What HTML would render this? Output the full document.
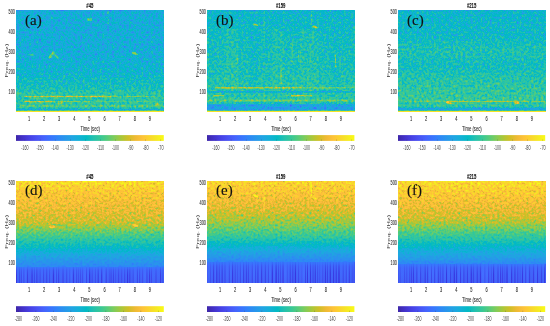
<!DOCTYPE html>
<html><head><meta charset="utf-8"><title>Spectrograms</title>
<style>html,body{margin:0;padding:0;background:#fff;overflow:hidden}svg{display:block}</style>
</head><body>
<svg width="550" height="326" viewBox="0 0 550 326">
<defs>
<linearGradient id="pg" x1="0" x2="1" y1="0" y2="0">
<stop offset="0.0000" stop-color="#3e26a8"/>
<stop offset="0.0476" stop-color="#4332cb"/>
<stop offset="0.0952" stop-color="#4741e5"/>
<stop offset="0.1429" stop-color="#4852f4"/>
<stop offset="0.1905" stop-color="#4563fd"/>
<stop offset="0.2381" stop-color="#3875fe"/>
<stop offset="0.2857" stop-color="#2e87f7"/>
<stop offset="0.3333" stop-color="#2797eb"/>
<stop offset="0.3810" stop-color="#20a5e3"/>
<stop offset="0.4286" stop-color="#12b1d6"/>
<stop offset="0.4762" stop-color="#02bac3"/>
<stop offset="0.5238" stop-color="#24c1ae"/>
<stop offset="0.5714" stop-color="#37c897"/>
<stop offset="0.6190" stop-color="#57cc7a"/>
<stop offset="0.6667" stop-color="#81cc59"/>
<stop offset="0.7143" stop-color="#abc739"/>
<stop offset="0.7619" stop-color="#d1bf27"/>
<stop offset="0.8095" stop-color="#f0ba36"/>
<stop offset="0.8571" stop-color="#fec338"/>
<stop offset="0.9048" stop-color="#fad62d"/>
<stop offset="0.9524" stop-color="#f5e924"/>
<stop offset="1.0000" stop-color="#f9fb15"/>
</linearGradient>
<filter id="ft0" filterUnits="userSpaceOnUse" x="16.0" y="10.7" width="147.80" height="100.80" color-interpolation-filters="sRGB">
<feTurbulence type="fractalNoise" baseFrequency="0.41" numOctaves="2" seed="3" result="t"/>
<feColorMatrix in="t" type="matrix" values="1 0 0 0 0  1 0 0 0 0  1 0 0 0 0  0 0 0 0 1" result="n0"/>
<feComponentTransfer in="n0" result="n"><feFuncR type="gamma" exponent="0.4"/><feFuncG type="gamma" exponent="0.4"/><feFuncB type="gamma" exponent="0.4"/></feComponentTransfer>
<feGaussianBlur in="SourceGraphic" stdDeviation="0.55" result="sb"/>
<feComposite in="sb" in2="n" operator="arithmetic" k1="0" k2="1" k3="0.64" k4="-0.4850" result="v"/>
<feComponentTransfer in="v">
<feFuncR type="table" tableValues="0.2422 0.2504 0.2578 0.2647 0.2706 0.2751 0.2783 0.2803 0.2813 0.2810 0.2795 0.2760 0.2699 0.2602 0.2440 0.2206 0.1963 0.1834 0.1786 0.1764 0.1687 0.1540 0.1460 0.1380 0.1248 0.1113 0.0952 0.0689 0.0297 0.0036 0.0067 0.0433 0.0964 0.1408 0.1717 0.1938 0.2161 0.2470 0.2906 0.3406 0.3909 0.4456 0.5044 0.5616 0.6174 0.6720 0.7242 0.7738 0.8203 0.8634 0.9035 0.9393 0.9728 0.9956 0.9970 0.9952 0.9892 0.9786 0.9676 0.9610 0.9597 0.9628 0.9691 0.9769"/>
<feFuncG type="table" tableValues="0.1504 0.1650 0.1818 0.1978 0.2147 0.2342 0.2559 0.2782 0.3006 0.3228 0.3447 0.3667 0.3892 0.4123 0.4358 0.4603 0.4847 0.5074 0.5289 0.5499 0.5703 0.5902 0.6091 0.6276 0.6459 0.6635 0.6798 0.6948 0.7082 0.7203 0.7312 0.7411 0.7500 0.7584 0.7670 0.7758 0.7843 0.7918 0.7973 0.8008 0.8029 0.8024 0.7993 0.7942 0.7876 0.7793 0.7698 0.7598 0.7498 0.7406 0.7330 0.7288 0.7298 0.7434 0.7659 0.7893 0.8136 0.8386 0.8639 0.8890 0.9135 0.9373 0.9606 0.9839"/>
<feFuncB type="table" tableValues="0.6603 0.7076 0.7511 0.7952 0.8364 0.8710 0.8991 0.9221 0.9414 0.9579 0.9717 0.9829 0.9906 0.9952 0.9988 0.9973 0.9892 0.9798 0.9682 0.9520 0.9359 0.9218 0.9079 0.8973 0.8883 0.8763 0.8598 0.8394 0.8163 0.7917 0.7660 0.7394 0.7120 0.6842 0.6554 0.6251 0.5923 0.5567 0.5188 0.4789 0.4354 0.3909 0.3480 0.3045 0.2612 0.2227 0.1910 0.1646 0.1535 0.1596 0.1774 0.2100 0.2394 0.2371 0.2199 0.2028 0.1885 0.1766 0.1643 0.1537 0.1423 0.1265 0.1064 0.0805"/>
</feComponentTransfer>
</filter>
<filter id="fb0" filterUnits="userSpaceOnUse" x="16.0" y="181.9" width="147.80" height="100.70" color-interpolation-filters="sRGB">
<feTurbulence type="fractalNoise" baseFrequency="0.41" numOctaves="2" seed="11" result="t"/>
<feColorMatrix in="t" type="matrix" values="1 0 0 0 0  1 0 0 0 0  1 0 0 0 0  0 0 0 0 1" result="n0"/>
<feComponentTransfer in="n0" result="n"><feFuncR type="gamma" exponent="0.4"/><feFuncG type="gamma" exponent="0.4"/><feFuncB type="gamma" exponent="0.4"/></feComponentTransfer>
<feGaussianBlur in="SourceGraphic" stdDeviation="0.55" result="sb"/>
<feComposite in="sb" in2="n" operator="arithmetic" k1="0.68" k2="0.4847" k3="0" k4="0" result="v"/>
<feComponentTransfer in="v">
<feFuncR type="table" tableValues="0.2422 0.2504 0.2578 0.2647 0.2706 0.2751 0.2783 0.2803 0.2813 0.2810 0.2795 0.2760 0.2699 0.2602 0.2440 0.2206 0.1963 0.1834 0.1786 0.1764 0.1687 0.1540 0.1460 0.1380 0.1248 0.1113 0.0952 0.0689 0.0297 0.0036 0.0067 0.0433 0.0964 0.1408 0.1717 0.1938 0.2161 0.2470 0.2906 0.3406 0.3909 0.4456 0.5044 0.5616 0.6174 0.6720 0.7242 0.7738 0.8203 0.8634 0.9035 0.9393 0.9728 0.9956 0.9970 0.9952 0.9892 0.9786 0.9676 0.9610 0.9597 0.9628 0.9691 0.9769"/>
<feFuncG type="table" tableValues="0.1504 0.1650 0.1818 0.1978 0.2147 0.2342 0.2559 0.2782 0.3006 0.3228 0.3447 0.3667 0.3892 0.4123 0.4358 0.4603 0.4847 0.5074 0.5289 0.5499 0.5703 0.5902 0.6091 0.6276 0.6459 0.6635 0.6798 0.6948 0.7082 0.7203 0.7312 0.7411 0.7500 0.7584 0.7670 0.7758 0.7843 0.7918 0.7973 0.8008 0.8029 0.8024 0.7993 0.7942 0.7876 0.7793 0.7698 0.7598 0.7498 0.7406 0.7330 0.7288 0.7298 0.7434 0.7659 0.7893 0.8136 0.8386 0.8639 0.8890 0.9135 0.9373 0.9606 0.9839"/>
<feFuncB type="table" tableValues="0.6603 0.7076 0.7511 0.7952 0.8364 0.8710 0.8991 0.9221 0.9414 0.9579 0.9717 0.9829 0.9906 0.9952 0.9988 0.9973 0.9892 0.9798 0.9682 0.9520 0.9359 0.9218 0.9079 0.8973 0.8883 0.8763 0.8598 0.8394 0.8163 0.7917 0.7660 0.7394 0.7120 0.6842 0.6554 0.6251 0.5923 0.5567 0.5188 0.4789 0.4354 0.3909 0.3480 0.3045 0.2612 0.2227 0.1910 0.1646 0.1535 0.1596 0.1774 0.2100 0.2394 0.2371 0.2199 0.2028 0.1885 0.1766 0.1643 0.1537 0.1423 0.1265 0.1064 0.0805"/>
</feComponentTransfer>
</filter>
<filter id="ft1" filterUnits="userSpaceOnUse" x="207.0" y="10.7" width="147.40" height="100.80" color-interpolation-filters="sRGB">
<feTurbulence type="fractalNoise" baseFrequency="0.41" numOctaves="2" seed="8" result="t"/>
<feColorMatrix in="t" type="matrix" values="1 0 0 0 0  1 0 0 0 0  1 0 0 0 0  0 0 0 0 1" result="n0"/>
<feComponentTransfer in="n0" result="n"><feFuncR type="gamma" exponent="0.4"/><feFuncG type="gamma" exponent="0.4"/><feFuncB type="gamma" exponent="0.4"/></feComponentTransfer>
<feGaussianBlur in="SourceGraphic" stdDeviation="0.55" result="sb"/>
<feComposite in="sb" in2="n" operator="arithmetic" k1="0" k2="1" k3="0.64" k4="-0.4850" result="v"/>
<feComponentTransfer in="v">
<feFuncR type="table" tableValues="0.2422 0.2504 0.2578 0.2647 0.2706 0.2751 0.2783 0.2803 0.2813 0.2810 0.2795 0.2760 0.2699 0.2602 0.2440 0.2206 0.1963 0.1834 0.1786 0.1764 0.1687 0.1540 0.1460 0.1380 0.1248 0.1113 0.0952 0.0689 0.0297 0.0036 0.0067 0.0433 0.0964 0.1408 0.1717 0.1938 0.2161 0.2470 0.2906 0.3406 0.3909 0.4456 0.5044 0.5616 0.6174 0.6720 0.7242 0.7738 0.8203 0.8634 0.9035 0.9393 0.9728 0.9956 0.9970 0.9952 0.9892 0.9786 0.9676 0.9610 0.9597 0.9628 0.9691 0.9769"/>
<feFuncG type="table" tableValues="0.1504 0.1650 0.1818 0.1978 0.2147 0.2342 0.2559 0.2782 0.3006 0.3228 0.3447 0.3667 0.3892 0.4123 0.4358 0.4603 0.4847 0.5074 0.5289 0.5499 0.5703 0.5902 0.6091 0.6276 0.6459 0.6635 0.6798 0.6948 0.7082 0.7203 0.7312 0.7411 0.7500 0.7584 0.7670 0.7758 0.7843 0.7918 0.7973 0.8008 0.8029 0.8024 0.7993 0.7942 0.7876 0.7793 0.7698 0.7598 0.7498 0.7406 0.7330 0.7288 0.7298 0.7434 0.7659 0.7893 0.8136 0.8386 0.8639 0.8890 0.9135 0.9373 0.9606 0.9839"/>
<feFuncB type="table" tableValues="0.6603 0.7076 0.7511 0.7952 0.8364 0.8710 0.8991 0.9221 0.9414 0.9579 0.9717 0.9829 0.9906 0.9952 0.9988 0.9973 0.9892 0.9798 0.9682 0.9520 0.9359 0.9218 0.9079 0.8973 0.8883 0.8763 0.8598 0.8394 0.8163 0.7917 0.7660 0.7394 0.7120 0.6842 0.6554 0.6251 0.5923 0.5567 0.5188 0.4789 0.4354 0.3909 0.3480 0.3045 0.2612 0.2227 0.1910 0.1646 0.1535 0.1596 0.1774 0.2100 0.2394 0.2371 0.2199 0.2028 0.1885 0.1766 0.1643 0.1537 0.1423 0.1265 0.1064 0.0805"/>
</feComponentTransfer>
</filter>
<filter id="fb1" filterUnits="userSpaceOnUse" x="207.0" y="181.9" width="147.40" height="100.70" color-interpolation-filters="sRGB">
<feTurbulence type="fractalNoise" baseFrequency="0.41" numOctaves="2" seed="18" result="t"/>
<feColorMatrix in="t" type="matrix" values="1 0 0 0 0  1 0 0 0 0  1 0 0 0 0  0 0 0 0 1" result="n0"/>
<feComponentTransfer in="n0" result="n"><feFuncR type="gamma" exponent="0.4"/><feFuncG type="gamma" exponent="0.4"/><feFuncB type="gamma" exponent="0.4"/></feComponentTransfer>
<feGaussianBlur in="SourceGraphic" stdDeviation="0.55" result="sb"/>
<feComposite in="sb" in2="n" operator="arithmetic" k1="0.68" k2="0.4847" k3="0" k4="0" result="v"/>
<feComponentTransfer in="v">
<feFuncR type="table" tableValues="0.2422 0.2504 0.2578 0.2647 0.2706 0.2751 0.2783 0.2803 0.2813 0.2810 0.2795 0.2760 0.2699 0.2602 0.2440 0.2206 0.1963 0.1834 0.1786 0.1764 0.1687 0.1540 0.1460 0.1380 0.1248 0.1113 0.0952 0.0689 0.0297 0.0036 0.0067 0.0433 0.0964 0.1408 0.1717 0.1938 0.2161 0.2470 0.2906 0.3406 0.3909 0.4456 0.5044 0.5616 0.6174 0.6720 0.7242 0.7738 0.8203 0.8634 0.9035 0.9393 0.9728 0.9956 0.9970 0.9952 0.9892 0.9786 0.9676 0.9610 0.9597 0.9628 0.9691 0.9769"/>
<feFuncG type="table" tableValues="0.1504 0.1650 0.1818 0.1978 0.2147 0.2342 0.2559 0.2782 0.3006 0.3228 0.3447 0.3667 0.3892 0.4123 0.4358 0.4603 0.4847 0.5074 0.5289 0.5499 0.5703 0.5902 0.6091 0.6276 0.6459 0.6635 0.6798 0.6948 0.7082 0.7203 0.7312 0.7411 0.7500 0.7584 0.7670 0.7758 0.7843 0.7918 0.7973 0.8008 0.8029 0.8024 0.7993 0.7942 0.7876 0.7793 0.7698 0.7598 0.7498 0.7406 0.7330 0.7288 0.7298 0.7434 0.7659 0.7893 0.8136 0.8386 0.8639 0.8890 0.9135 0.9373 0.9606 0.9839"/>
<feFuncB type="table" tableValues="0.6603 0.7076 0.7511 0.7952 0.8364 0.8710 0.8991 0.9221 0.9414 0.9579 0.9717 0.9829 0.9906 0.9952 0.9988 0.9973 0.9892 0.9798 0.9682 0.9520 0.9359 0.9218 0.9079 0.8973 0.8883 0.8763 0.8598 0.8394 0.8163 0.7917 0.7660 0.7394 0.7120 0.6842 0.6554 0.6251 0.5923 0.5567 0.5188 0.4789 0.4354 0.3909 0.3480 0.3045 0.2612 0.2227 0.1910 0.1646 0.1535 0.1596 0.1774 0.2100 0.2394 0.2371 0.2199 0.2028 0.1885 0.1766 0.1643 0.1537 0.1423 0.1265 0.1064 0.0805"/>
</feComponentTransfer>
</filter>
<filter id="ft2" filterUnits="userSpaceOnUse" x="398.0" y="10.7" width="147.20" height="100.80" color-interpolation-filters="sRGB">
<feTurbulence type="fractalNoise" baseFrequency="0.41" numOctaves="2" seed="13" result="t"/>
<feColorMatrix in="t" type="matrix" values="1 0 0 0 0  1 0 0 0 0  1 0 0 0 0  0 0 0 0 1" result="n0"/>
<feComponentTransfer in="n0" result="n"><feFuncR type="gamma" exponent="0.4"/><feFuncG type="gamma" exponent="0.4"/><feFuncB type="gamma" exponent="0.4"/></feComponentTransfer>
<feGaussianBlur in="SourceGraphic" stdDeviation="0.55" result="sb"/>
<feComposite in="sb" in2="n" operator="arithmetic" k1="0" k2="1" k3="0.64" k4="-0.4850" result="v"/>
<feComponentTransfer in="v">
<feFuncR type="table" tableValues="0.2422 0.2504 0.2578 0.2647 0.2706 0.2751 0.2783 0.2803 0.2813 0.2810 0.2795 0.2760 0.2699 0.2602 0.2440 0.2206 0.1963 0.1834 0.1786 0.1764 0.1687 0.1540 0.1460 0.1380 0.1248 0.1113 0.0952 0.0689 0.0297 0.0036 0.0067 0.0433 0.0964 0.1408 0.1717 0.1938 0.2161 0.2470 0.2906 0.3406 0.3909 0.4456 0.5044 0.5616 0.6174 0.6720 0.7242 0.7738 0.8203 0.8634 0.9035 0.9393 0.9728 0.9956 0.9970 0.9952 0.9892 0.9786 0.9676 0.9610 0.9597 0.9628 0.9691 0.9769"/>
<feFuncG type="table" tableValues="0.1504 0.1650 0.1818 0.1978 0.2147 0.2342 0.2559 0.2782 0.3006 0.3228 0.3447 0.3667 0.3892 0.4123 0.4358 0.4603 0.4847 0.5074 0.5289 0.5499 0.5703 0.5902 0.6091 0.6276 0.6459 0.6635 0.6798 0.6948 0.7082 0.7203 0.7312 0.7411 0.7500 0.7584 0.7670 0.7758 0.7843 0.7918 0.7973 0.8008 0.8029 0.8024 0.7993 0.7942 0.7876 0.7793 0.7698 0.7598 0.7498 0.7406 0.7330 0.7288 0.7298 0.7434 0.7659 0.7893 0.8136 0.8386 0.8639 0.8890 0.9135 0.9373 0.9606 0.9839"/>
<feFuncB type="table" tableValues="0.6603 0.7076 0.7511 0.7952 0.8364 0.8710 0.8991 0.9221 0.9414 0.9579 0.9717 0.9829 0.9906 0.9952 0.9988 0.9973 0.9892 0.9798 0.9682 0.9520 0.9359 0.9218 0.9079 0.8973 0.8883 0.8763 0.8598 0.8394 0.8163 0.7917 0.7660 0.7394 0.7120 0.6842 0.6554 0.6251 0.5923 0.5567 0.5188 0.4789 0.4354 0.3909 0.3480 0.3045 0.2612 0.2227 0.1910 0.1646 0.1535 0.1596 0.1774 0.2100 0.2394 0.2371 0.2199 0.2028 0.1885 0.1766 0.1643 0.1537 0.1423 0.1265 0.1064 0.0805"/>
</feComponentTransfer>
</filter>
<filter id="fb2" filterUnits="userSpaceOnUse" x="398.0" y="181.9" width="147.20" height="100.70" color-interpolation-filters="sRGB">
<feTurbulence type="fractalNoise" baseFrequency="0.41" numOctaves="2" seed="25" result="t"/>
<feColorMatrix in="t" type="matrix" values="1 0 0 0 0  1 0 0 0 0  1 0 0 0 0  0 0 0 0 1" result="n0"/>
<feComponentTransfer in="n0" result="n"><feFuncR type="gamma" exponent="0.4"/><feFuncG type="gamma" exponent="0.4"/><feFuncB type="gamma" exponent="0.4"/></feComponentTransfer>
<feGaussianBlur in="SourceGraphic" stdDeviation="0.55" result="sb"/>
<feComposite in="sb" in2="n" operator="arithmetic" k1="0.68" k2="0.4847" k3="0" k4="0" result="v"/>
<feComponentTransfer in="v">
<feFuncR type="table" tableValues="0.2422 0.2504 0.2578 0.2647 0.2706 0.2751 0.2783 0.2803 0.2813 0.2810 0.2795 0.2760 0.2699 0.2602 0.2440 0.2206 0.1963 0.1834 0.1786 0.1764 0.1687 0.1540 0.1460 0.1380 0.1248 0.1113 0.0952 0.0689 0.0297 0.0036 0.0067 0.0433 0.0964 0.1408 0.1717 0.1938 0.2161 0.2470 0.2906 0.3406 0.3909 0.4456 0.5044 0.5616 0.6174 0.6720 0.7242 0.7738 0.8203 0.8634 0.9035 0.9393 0.9728 0.9956 0.9970 0.9952 0.9892 0.9786 0.9676 0.9610 0.9597 0.9628 0.9691 0.9769"/>
<feFuncG type="table" tableValues="0.1504 0.1650 0.1818 0.1978 0.2147 0.2342 0.2559 0.2782 0.3006 0.3228 0.3447 0.3667 0.3892 0.4123 0.4358 0.4603 0.4847 0.5074 0.5289 0.5499 0.5703 0.5902 0.6091 0.6276 0.6459 0.6635 0.6798 0.6948 0.7082 0.7203 0.7312 0.7411 0.7500 0.7584 0.7670 0.7758 0.7843 0.7918 0.7973 0.8008 0.8029 0.8024 0.7993 0.7942 0.7876 0.7793 0.7698 0.7598 0.7498 0.7406 0.7330 0.7288 0.7298 0.7434 0.7659 0.7893 0.8136 0.8386 0.8639 0.8890 0.9135 0.9373 0.9606 0.9839"/>
<feFuncB type="table" tableValues="0.6603 0.7076 0.7511 0.7952 0.8364 0.8710 0.8991 0.9221 0.9414 0.9579 0.9717 0.9829 0.9906 0.9952 0.9988 0.9973 0.9892 0.9798 0.9682 0.9520 0.9359 0.9218 0.9079 0.8973 0.8883 0.8763 0.8598 0.8394 0.8163 0.7917 0.7660 0.7394 0.7120 0.6842 0.6554 0.6251 0.5923 0.5567 0.5188 0.4789 0.4354 0.3909 0.3480 0.3045 0.2612 0.2227 0.1910 0.1646 0.1535 0.1596 0.1774 0.2100 0.2394 0.2371 0.2199 0.2028 0.1885 0.1766 0.1643 0.1537 0.1423 0.1265 0.1064 0.0805"/>
</feComponentTransfer>
</filter>
<linearGradient id="gt0" x1="0" x2="0" y1="0" y2="1">
<stop offset="0.0000" stop-color="#6b6b6b"/>
<stop offset="0.4000" stop-color="#6b6b6b"/>
<stop offset="0.6000" stop-color="#737373"/>
<stop offset="0.7600" stop-color="#808080"/>
<stop offset="0.8200" stop-color="#8a8a8a"/>
<stop offset="0.9400" stop-color="#8c8c8c"/>
<stop offset="0.9680" stop-color="#878787"/>
<stop offset="0.9740" stop-color="#6e6e6e"/>
<stop offset="0.9900" stop-color="#696969"/>
<stop offset="0.9920" stop-color="#999999"/>
<stop offset="1.0000" stop-color="#999999"/>
</linearGradient>
<linearGradient id="gt1" x1="0" x2="0" y1="0" y2="1">
<stop offset="0.0000" stop-color="#757575"/>
<stop offset="0.3000" stop-color="#7d7d7d"/>
<stop offset="0.6000" stop-color="#828282"/>
<stop offset="0.7400" stop-color="#878787"/>
<stop offset="0.8800" stop-color="#8a8a8a"/>
<stop offset="0.9240" stop-color="#828282"/>
<stop offset="0.9320" stop-color="#616161"/>
<stop offset="0.9900" stop-color="#5c5c5c"/>
<stop offset="0.9920" stop-color="#999999"/>
<stop offset="1.0000" stop-color="#999999"/>
</linearGradient>
<linearGradient id="gt2" x1="0" x2="0" y1="0" y2="1">
<stop offset="0.0000" stop-color="#757575"/>
<stop offset="0.2400" stop-color="#787878"/>
<stop offset="0.4000" stop-color="#858585"/>
<stop offset="0.5400" stop-color="#7d7d7d"/>
<stop offset="0.7000" stop-color="#8a8a8a"/>
<stop offset="0.8800" stop-color="#919191"/>
<stop offset="0.9560" stop-color="#8a8a8a"/>
<stop offset="0.9660" stop-color="#696969"/>
<stop offset="0.9900" stop-color="#616161"/>
<stop offset="0.9920" stop-color="#999999"/>
<stop offset="1.0000" stop-color="#999999"/>
</linearGradient>
<linearGradient id="gb0" x1="0" x2="0" y1="0" y2="1">
<stop offset="0.0000" stop-color="#ebebeb"/>
<stop offset="0.1200" stop-color="#dbdbdb"/>
<stop offset="0.4000" stop-color="#c2c2c2"/>
<stop offset="0.5260" stop-color="#999999"/>
<stop offset="0.6540" stop-color="#787878"/>
<stop offset="0.7500" stop-color="#5e5e5e"/>
<stop offset="0.8420" stop-color="#4a4a4a"/>
<stop offset="1.0000" stop-color="#4a4a4a"/>
</linearGradient>
<linearGradient id="gb1" x1="0" x2="0" y1="0" y2="1">
<stop offset="0.0000" stop-color="#e6e6e6"/>
<stop offset="0.1200" stop-color="#d9d9d9"/>
<stop offset="0.2800" stop-color="#c7c7c7"/>
<stop offset="0.4000" stop-color="#b2b2b2"/>
<stop offset="0.5280" stop-color="#949494"/>
<stop offset="0.6460" stop-color="#707070"/>
<stop offset="0.7200" stop-color="#5c5c5c"/>
<stop offset="0.7960" stop-color="#474747"/>
<stop offset="1.0000" stop-color="#474747"/>
</linearGradient>
<linearGradient id="gb2" x1="0" x2="0" y1="0" y2="1">
<stop offset="0.0000" stop-color="#ebebeb"/>
<stop offset="0.1200" stop-color="#dedede"/>
<stop offset="0.3660" stop-color="#c2c2c2"/>
<stop offset="0.5300" stop-color="#949494"/>
<stop offset="0.6500" stop-color="#737373"/>
<stop offset="0.7500" stop-color="#5c5c5c"/>
<stop offset="0.8140" stop-color="#4a4a4a"/>
<stop offset="1.0000" stop-color="#4a4a4a"/>
</linearGradient>
</defs>
<rect width="550" height="326" fill="#fff"/>
<g filter="url(#ft0)">
<rect x="12.0" y="10.7" width="155.80" height="100.80" fill="url(#gt0)"/>
<rect x="12.0" y="6.699999999999999" width="155.80" height="4.2" fill="#6b6b6b"/>
<rect x="12.0" y="110.8" width="155.80" height="5" fill="#f2f2f2"/>
<rect x="24.5" y="95.85" width="86.5" height="1.3" fill="#bfbfbf" opacity="1.0"/>
<rect x="111.0" y="95.95" width="45.0" height="1.1" fill="#a3a3a3" opacity="1.0"/>
<rect x="24.5" y="100.95" width="27.5" height="1.3" fill="#bfbfbf" opacity="1.0"/>
<rect x="52.0" y="101.05" width="38.0" height="1.1" fill="#a8a8a8" opacity="1.0"/>
<rect x="90.0" y="101.05" width="73.8" height="1.1" fill="#999999" opacity="1.0"/>
<rect x="20.0" y="105.20" width="143.8" height="1.6" fill="#a1a1a1" opacity="1.0"/>
<path d="M49.3,58 L51.5,55.5 L53.3,52.3 L55.5,55.5 L57.8,58.3" fill="none" stroke="#a1a1a1" stroke-width="1.9" stroke-linejoin="round" stroke-linecap="round"/>
<ellipse cx="53.3" cy="53.6" rx="1.8" ry="1.4" fill="#adadad" opacity="1.0"/>
<ellipse cx="51.0" cy="56.5" rx="1.6" ry="1.2" fill="#adadad" opacity="1.0"/>
<ellipse cx="32.0" cy="55.0" rx="3" ry="0.8" fill="#999999" opacity="1.0"/>
<ellipse cx="135.0" cy="53.3" rx="3.2" ry="1.2" fill="#ababab" opacity="1.0" transform="rotate(15 135.0 53.3)"/>
<ellipse cx="89.4" cy="19.2" rx="3" ry="1.6" fill="#949494" opacity="1.0"/>
<rect x="107.5" y="10.7" width="1" height="15" fill="#8c8c8c"/>
<ellipse cx="157.0" cy="104.0" rx="3" ry="1.2" fill="#b2b2b2" opacity="1.0" transform="rotate(20 157.0 104.0)"/>
<ellipse cx="60.0" cy="103.3" rx="3" ry="1.0" fill="#adadad" opacity="1.0" transform="rotate(-20 60.0 103.3)"/>
</g>
<rect x="16.0" y="110.85" width="147.80" height="0.85" fill="#f5e427"/>
<g filter="url(#ft1)">
<rect x="203.0" y="10.7" width="155.40" height="100.80" fill="url(#gt1)"/>
<rect x="203.0" y="6.699999999999999" width="155.40" height="4.2" fill="#757575"/>
<rect x="203.0" y="110.8" width="155.40" height="5" fill="#f2f2f2"/>
<rect x="224" y="28.7" width="14" height="62" fill="#9e9e9e" opacity="0.22"/>
<rect x="272" y="28.7" width="12" height="62" fill="#9e9e9e" opacity="0.2"/>
<rect x="300" y="28.7" width="18" height="62" fill="#9e9e9e" opacity="0.2"/>
<rect x="250" y="28.7" width="8" height="62" fill="#666666" opacity="0.18"/>
<rect x="330" y="28.7" width="10" height="62" fill="#6b6b6b" opacity="0.15"/>
<rect x="215.0" y="87.10" width="86.0" height="1.4" fill="#bdbdbd" opacity="1.0"/>
<rect x="301.0" y="87.20" width="53.4" height="1.2" fill="#a8a8a8" opacity="1.0"/>
<rect x="207.0" y="91.05" width="147.4" height="1.5" fill="#6b6b6b" opacity="1.0"/>
<rect x="213.5" y="95.10" width="10.5" height="1.2" fill="#bdbdbd" opacity="1.0"/>
<rect x="291.0" y="95.00" width="21.0" height="1.4" fill="#bdbdbd" opacity="1.0"/>
<rect x="224.0" y="95.10" width="67.0" height="1.2" fill="#8f8f8f" opacity="1.0"/>
<rect x="207.0" y="99.50" width="147.4" height="2.0" fill="#a3a3a3" opacity="1.0"/>
<ellipse cx="255.7" cy="24.6" rx="2.6" ry="1.0" fill="#b8b8b8" opacity="1.0" transform="rotate(20 255.7 24.6)"/>
<ellipse cx="314.9" cy="27.0" rx="2.8" ry="1.1" fill="#b8b8b8" opacity="1.0" transform="rotate(15 314.9 27.0)"/>
<rect x="263.6" y="10.7" width="1" height="30" fill="#949494"/>
<rect x="291.6" y="40" width="1.2" height="22" fill="#999999"/>
<rect x="311" y="10.7" width="1" height="14" fill="#949494"/>
<rect x="280.5" y="70" width="1.2" height="14" fill="#a8a8a8"/>
<rect x="236.5" y="54" width="1.2" height="10" fill="#a3a3a3"/>
<rect x="298" y="50" width="1.2" height="12" fill="#a3a3a3"/>
<rect x="335" y="55" width="1.2" height="12" fill="#a3a3a3"/>
</g>
<rect x="207.0" y="110.85" width="147.40" height="0.85" fill="#f5e427"/>
<g filter="url(#ft2)">
<rect x="394.0" y="10.7" width="155.20" height="100.80" fill="url(#gt2)"/>
<rect x="394.0" y="6.699999999999999" width="155.20" height="4.2" fill="#757575"/>
<rect x="394.0" y="110.8" width="155.20" height="5" fill="#f2f2f2"/>
<rect x="403.5" y="100.85" width="43.5" height="1.1" fill="#a3a3a3" opacity="1.0"/>
<rect x="447.0" y="100.80" width="69.0" height="1.2" fill="#b8b8b8" opacity="1.0"/>
<rect x="516.0" y="100.85" width="29.2" height="1.1" fill="#a8a8a8" opacity="1.0"/>
<ellipse cx="448.8" cy="102.8" rx="3.0" ry="1.3" fill="#e0e0e0" opacity="1.0" transform="rotate(15 448.8 102.8)"/>
<ellipse cx="517.0" cy="102.8" rx="2.8" ry="1.2" fill="#cccccc" opacity="1.0" transform="rotate(10 517.0 102.8)"/>
</g>
<rect x="398.0" y="110.85" width="147.20" height="0.85" fill="#f5e427"/>
<g filter="url(#fb0)">
<rect x="12.0" y="181.9" width="155.80" height="100.70" fill="url(#gb0)"/>
<rect x="12.0" y="177.9" width="155.80" height="4.2" fill="#ebebeb"/>
<ellipse cx="52.2" cy="226.5" rx="3" ry="1.6" fill="#dbdbdb" opacity="1.0"/>
<ellipse cx="135.0" cy="225.5" rx="3.2" ry="1.2" fill="#dbdbdb" opacity="1.0" transform="rotate(15 135.0 225.5)"/>
</g>
<filter id="fs0" filterUnits="userSpaceOnUse" x="16.0" y="267.00" width="147.80" height="15.60"><feGaussianBlur stdDeviation="0.25 0"/></filter>
<g filter="url(#fs0)">
<rect x="13.0" y="264.00" width="153.80" height="21.60" fill="#4563fd"/>
<rect x="14.00" y="264.00" width="1.76" height="21.60" fill="#4066f9"/>
<rect x="15.71" y="264.00" width="1.27" height="21.60" fill="#352fdb"/>
<rect x="16.93" y="264.00" width="2.29" height="21.60" fill="#4169fb"/>
<rect x="19.17" y="264.00" width="0.80" height="21.60" fill="#383fe4"/>
<rect x="19.92" y="264.00" width="1.04" height="21.60" fill="#416afb"/>
<rect x="20.91" y="264.00" width="0.81" height="21.60" fill="#3530dc"/>
<rect x="21.67" y="264.00" width="2.01" height="21.60" fill="#426fff"/>
<rect x="23.63" y="264.00" width="0.85" height="21.60" fill="#3635de"/>
<rect x="24.43" y="264.00" width="2.52" height="21.60" fill="#4270ff"/>
<rect x="26.89" y="264.00" width="1.21" height="21.60" fill="#373be1"/>
<rect x="28.06" y="264.00" width="3.39" height="21.60" fill="#4064f8"/>
<rect x="31.40" y="264.00" width="1.44" height="21.60" fill="#3637df"/>
<rect x="32.78" y="264.00" width="1.31" height="21.60" fill="#4065f9"/>
<rect x="34.04" y="264.00" width="1.00" height="21.60" fill="#3a4aea"/>
<rect x="34.99" y="264.00" width="1.40" height="21.60" fill="#416cfd"/>
<rect x="36.34" y="264.00" width="1.26" height="21.60" fill="#373ae1"/>
<rect x="37.55" y="264.00" width="2.32" height="21.60" fill="#4064f8"/>
<rect x="39.82" y="264.00" width="0.80" height="21.60" fill="#3634de"/>
<rect x="40.57" y="264.00" width="2.65" height="21.60" fill="#416afb"/>
<rect x="43.17" y="264.00" width="1.00" height="21.60" fill="#3941e5"/>
<rect x="44.12" y="264.00" width="2.08" height="21.60" fill="#4168fa"/>
<rect x="46.16" y="264.00" width="1.39" height="21.60" fill="#3945e7"/>
<rect x="47.49" y="264.00" width="1.56" height="21.60" fill="#416cfc"/>
<rect x="49.00" y="264.00" width="1.17" height="21.60" fill="#3b4ceb"/>
<rect x="50.12" y="264.00" width="2.77" height="21.60" fill="#4168fa"/>
<rect x="52.85" y="264.00" width="1.53" height="21.60" fill="#3531dc"/>
<rect x="54.33" y="264.00" width="2.00" height="21.60" fill="#426efe"/>
<rect x="56.28" y="264.00" width="0.87" height="21.60" fill="#383ee3"/>
<rect x="57.10" y="264.00" width="1.05" height="21.60" fill="#426dfd"/>
<rect x="58.10" y="264.00" width="1.36" height="21.60" fill="#3941e5"/>
<rect x="59.41" y="264.00" width="3.14" height="21.60" fill="#4168fa"/>
<rect x="62.50" y="264.00" width="1.31" height="21.60" fill="#3942e5"/>
<rect x="63.75" y="264.00" width="2.40" height="21.60" fill="#416afc"/>
<rect x="66.10" y="264.00" width="1.42" height="21.60" fill="#3b4eec"/>
<rect x="67.47" y="264.00" width="2.14" height="21.60" fill="#426dfd"/>
<rect x="69.56" y="264.00" width="0.80" height="21.60" fill="#3945e7"/>
<rect x="70.31" y="264.00" width="2.57" height="21.60" fill="#4270ff"/>
<rect x="72.83" y="264.00" width="1.41" height="21.60" fill="#3637df"/>
<rect x="74.18" y="264.00" width="1.91" height="21.60" fill="#426dfd"/>
<rect x="76.05" y="264.00" width="0.77" height="21.60" fill="#383de3"/>
<rect x="76.77" y="264.00" width="1.37" height="21.60" fill="#4065f9"/>
<rect x="78.09" y="264.00" width="0.80" height="21.60" fill="#3a48e9"/>
<rect x="78.83" y="264.00" width="1.27" height="21.60" fill="#4067fa"/>
<rect x="80.06" y="264.00" width="1.06" height="21.60" fill="#3b4ceb"/>
<rect x="81.07" y="264.00" width="1.15" height="21.60" fill="#416afb"/>
<rect x="82.17" y="264.00" width="1.19" height="21.60" fill="#3b4ceb"/>
<rect x="83.31" y="264.00" width="3.00" height="21.60" fill="#4270ff"/>
<rect x="86.26" y="264.00" width="0.97" height="21.60" fill="#373be2"/>
<rect x="87.18" y="264.00" width="1.85" height="21.60" fill="#4270ff"/>
<rect x="88.98" y="264.00" width="1.52" height="21.60" fill="#3532dd"/>
<rect x="90.44" y="264.00" width="1.39" height="21.60" fill="#4067fa"/>
<rect x="91.78" y="264.00" width="0.94" height="21.60" fill="#383ee3"/>
<rect x="92.67" y="264.00" width="2.42" height="21.60" fill="#4067fa"/>
<rect x="95.04" y="264.00" width="0.75" height="21.60" fill="#373be2"/>
<rect x="95.75" y="264.00" width="1.87" height="21.60" fill="#416cfc"/>
<rect x="97.57" y="264.00" width="1.51" height="21.60" fill="#3945e7"/>
<rect x="99.03" y="264.00" width="2.24" height="21.60" fill="#416cfd"/>
<rect x="101.22" y="264.00" width="1.29" height="21.60" fill="#352fdb"/>
<rect x="102.46" y="264.00" width="3.20" height="21.60" fill="#426ffe"/>
<rect x="105.61" y="264.00" width="1.45" height="21.60" fill="#3a49e9"/>
<rect x="107.01" y="264.00" width="1.93" height="21.60" fill="#4169fb"/>
<rect x="108.89" y="264.00" width="0.83" height="21.60" fill="#3943e6"/>
<rect x="109.67" y="264.00" width="1.11" height="21.60" fill="#4064f8"/>
<rect x="110.73" y="264.00" width="0.92" height="21.60" fill="#3632dd"/>
<rect x="111.60" y="264.00" width="1.80" height="21.60" fill="#4064f8"/>
<rect x="113.35" y="264.00" width="0.75" height="21.60" fill="#3532dd"/>
<rect x="114.05" y="264.00" width="1.20" height="21.60" fill="#4169fb"/>
<rect x="115.20" y="264.00" width="0.77" height="21.60" fill="#3b4ceb"/>
<rect x="115.92" y="264.00" width="2.49" height="21.60" fill="#4065f9"/>
<rect x="118.36" y="264.00" width="0.95" height="21.60" fill="#3739e1"/>
<rect x="119.26" y="264.00" width="1.86" height="21.60" fill="#4065f9"/>
<rect x="121.07" y="264.00" width="1.43" height="21.60" fill="#3c50ed"/>
<rect x="122.45" y="264.00" width="2.11" height="21.60" fill="#416afc"/>
<rect x="124.51" y="264.00" width="0.82" height="21.60" fill="#3530dc"/>
<rect x="125.28" y="264.00" width="1.81" height="21.60" fill="#4067fa"/>
<rect x="127.04" y="264.00" width="1.41" height="21.60" fill="#3632dd"/>
<rect x="128.40" y="264.00" width="1.01" height="21.60" fill="#4270ff"/>
<rect x="129.36" y="264.00" width="1.17" height="21.60" fill="#3532dd"/>
<rect x="130.48" y="264.00" width="2.31" height="21.60" fill="#4064f8"/>
<rect x="132.74" y="264.00" width="1.17" height="21.60" fill="#3b4fed"/>
<rect x="133.86" y="264.00" width="3.11" height="21.60" fill="#426dfd"/>
<rect x="136.92" y="264.00" width="0.96" height="21.60" fill="#373ae1"/>
<rect x="137.83" y="264.00" width="1.37" height="21.60" fill="#426ffe"/>
<rect x="139.15" y="264.00" width="1.18" height="21.60" fill="#3a48e9"/>
<rect x="140.27" y="264.00" width="1.77" height="21.60" fill="#4067fa"/>
<rect x="142.00" y="264.00" width="1.40" height="21.60" fill="#3c50ed"/>
<rect x="143.35" y="264.00" width="3.08" height="21.60" fill="#426ffe"/>
<rect x="146.38" y="264.00" width="1.40" height="21.60" fill="#3a47e8"/>
<rect x="147.73" y="264.00" width="1.52" height="21.60" fill="#416bfc"/>
<rect x="149.20" y="264.00" width="1.03" height="21.60" fill="#352eda"/>
<rect x="150.18" y="264.00" width="1.02" height="21.60" fill="#4067fa"/>
<rect x="151.15" y="264.00" width="0.96" height="21.60" fill="#3945e7"/>
<rect x="152.06" y="264.00" width="3.34" height="21.60" fill="#416afb"/>
<rect x="155.35" y="264.00" width="1.50" height="21.60" fill="#3c50ed"/>
<rect x="156.80" y="264.00" width="3.34" height="21.60" fill="#4169fb"/>
<rect x="160.09" y="264.00" width="0.93" height="21.60" fill="#3635de"/>
<rect x="160.97" y="264.00" width="1.44" height="21.60" fill="#4066fa"/>
<rect x="162.36" y="264.00" width="1.25" height="21.60" fill="#3b4deb"/>
<rect x="163.56" y="264.00" width="3.05" height="21.60" fill="#416afc"/>
<rect x="166.56" y="264.00" width="1.27" height="21.60" fill="#3a49e9"/>
</g>
<linearGradient id="sg0" x1="0" x2="0" y1="0" y2="1"><stop offset="0" stop-color="#347afd" stop-opacity="0.85"/><stop offset="0.08" stop-color="#3876fe" stop-opacity="0.75"/><stop offset="0.2" stop-color="#3f6eff" stop-opacity="0.5"/><stop offset="0.55" stop-color="#4367fd" stop-opacity="0.15"/><stop offset="1" stop-color="#4743e7" stop-opacity="0.2"/></linearGradient>
<rect x="16.0" y="267.00" width="147.80" height="15.60" fill="url(#sg0)"/>
<g filter="url(#fb1)">
<rect x="203.0" y="181.9" width="155.40" height="100.70" fill="url(#gb1)"/>
<rect x="203.0" y="177.9" width="155.40" height="4.2" fill="#e6e6e6"/>
<ellipse cx="255.7" cy="196.0" rx="2.6" ry="1.0" fill="#fafafa" opacity="1.0" transform="rotate(20 255.7 196.0)"/>
<ellipse cx="314.9" cy="198.0" rx="2.8" ry="1.0" fill="#fafafa" opacity="1.0" transform="rotate(15 314.9 198.0)"/>
<rect x="263.6" y="181.9" width="1" height="30" fill="#ededed"/>
<rect x="311" y="181.9" width="1" height="14" fill="#f2f2f2"/>
</g>
<filter id="fs1" filterUnits="userSpaceOnUse" x="207.0" y="262.00" width="147.40" height="20.60"><feGaussianBlur stdDeviation="0.25 0"/></filter>
<g filter="url(#fs1)">
<rect x="204.0" y="259.00" width="153.40" height="26.60" fill="#4563fd"/>
<rect x="205.00" y="259.00" width="1.16" height="26.60" fill="#426dfd"/>
<rect x="206.11" y="259.00" width="1.48" height="26.60" fill="#3a48e9"/>
<rect x="207.54" y="259.00" width="2.83" height="26.60" fill="#416afc"/>
<rect x="210.32" y="259.00" width="0.89" height="26.60" fill="#3a49e9"/>
<rect x="211.16" y="259.00" width="1.78" height="26.60" fill="#426ffe"/>
<rect x="212.89" y="259.00" width="1.53" height="26.60" fill="#373be1"/>
<rect x="214.37" y="259.00" width="1.95" height="26.60" fill="#4270ff"/>
<rect x="216.27" y="259.00" width="1.33" height="26.60" fill="#3633dd"/>
<rect x="217.55" y="259.00" width="1.27" height="26.60" fill="#4066f9"/>
<rect x="218.77" y="259.00" width="1.47" height="26.60" fill="#3a49e9"/>
<rect x="220.19" y="259.00" width="1.32" height="26.60" fill="#426fff"/>
<rect x="221.46" y="259.00" width="1.53" height="26.60" fill="#3944e7"/>
<rect x="222.94" y="259.00" width="1.83" height="26.60" fill="#416bfc"/>
<rect x="224.72" y="259.00" width="0.85" height="26.60" fill="#342dda"/>
<rect x="225.52" y="259.00" width="3.38" height="26.60" fill="#426dfd"/>
<rect x="228.85" y="259.00" width="1.17" height="26.60" fill="#3b4eec"/>
<rect x="229.97" y="259.00" width="2.03" height="26.60" fill="#4270ff"/>
<rect x="231.95" y="259.00" width="1.41" height="26.60" fill="#3634de"/>
<rect x="233.32" y="259.00" width="1.58" height="26.60" fill="#4168fa"/>
<rect x="234.85" y="259.00" width="0.94" height="26.60" fill="#3941e5"/>
<rect x="235.74" y="259.00" width="1.60" height="26.60" fill="#4169fb"/>
<rect x="237.29" y="259.00" width="0.85" height="26.60" fill="#3b4dec"/>
<rect x="238.09" y="259.00" width="1.83" height="26.60" fill="#416afc"/>
<rect x="239.88" y="259.00" width="1.22" height="26.60" fill="#3b4deb"/>
<rect x="241.04" y="259.00" width="2.00" height="26.60" fill="#4270ff"/>
<rect x="242.99" y="259.00" width="1.15" height="26.60" fill="#383fe4"/>
<rect x="244.10" y="259.00" width="2.26" height="26.60" fill="#4064f8"/>
<rect x="246.30" y="259.00" width="1.10" height="26.60" fill="#3633dd"/>
<rect x="247.36" y="259.00" width="0.96" height="26.60" fill="#426ffe"/>
<rect x="248.27" y="259.00" width="0.89" height="26.60" fill="#383de3"/>
<rect x="249.10" y="259.00" width="2.76" height="26.60" fill="#416bfc"/>
<rect x="251.82" y="259.00" width="1.01" height="26.60" fill="#383fe4"/>
<rect x="252.78" y="259.00" width="2.34" height="26.60" fill="#426ffe"/>
<rect x="255.07" y="259.00" width="0.83" height="26.60" fill="#3840e5"/>
<rect x="255.85" y="259.00" width="1.57" height="26.60" fill="#4067fa"/>
<rect x="257.37" y="259.00" width="1.37" height="26.60" fill="#383fe4"/>
<rect x="258.69" y="259.00" width="2.35" height="26.60" fill="#426efe"/>
<rect x="260.99" y="259.00" width="1.48" height="26.60" fill="#383ce2"/>
<rect x="262.42" y="259.00" width="2.48" height="26.60" fill="#416bfc"/>
<rect x="264.86" y="259.00" width="1.16" height="26.60" fill="#3945e7"/>
<rect x="265.97" y="259.00" width="2.08" height="26.60" fill="#416bfc"/>
<rect x="268.00" y="259.00" width="1.13" height="26.60" fill="#3b4eec"/>
<rect x="269.08" y="259.00" width="2.70" height="26.60" fill="#4270ff"/>
<rect x="271.73" y="259.00" width="1.50" height="26.60" fill="#3636df"/>
<rect x="273.18" y="259.00" width="2.35" height="26.60" fill="#4270ff"/>
<rect x="275.48" y="259.00" width="1.42" height="26.60" fill="#3532dc"/>
<rect x="276.85" y="259.00" width="1.25" height="26.60" fill="#416afb"/>
<rect x="278.06" y="259.00" width="0.81" height="26.60" fill="#3635de"/>
<rect x="278.81" y="259.00" width="1.13" height="26.60" fill="#426dfd"/>
<rect x="279.90" y="259.00" width="1.38" height="26.60" fill="#3b4ceb"/>
<rect x="281.22" y="259.00" width="1.34" height="26.60" fill="#426efe"/>
<rect x="282.51" y="259.00" width="1.28" height="26.60" fill="#3532dd"/>
<rect x="283.74" y="259.00" width="3.16" height="26.60" fill="#4270ff"/>
<rect x="286.84" y="259.00" width="0.93" height="26.60" fill="#3b4eec"/>
<rect x="287.72" y="259.00" width="1.95" height="26.60" fill="#416afc"/>
<rect x="289.62" y="259.00" width="1.54" height="26.60" fill="#3a4aea"/>
<rect x="291.11" y="259.00" width="1.35" height="26.60" fill="#416afb"/>
<rect x="292.41" y="259.00" width="1.16" height="26.60" fill="#3739e0"/>
<rect x="293.52" y="259.00" width="1.44" height="26.60" fill="#4168fa"/>
<rect x="294.91" y="259.00" width="1.33" height="26.60" fill="#342dda"/>
<rect x="296.19" y="259.00" width="2.34" height="26.60" fill="#416afb"/>
<rect x="298.48" y="259.00" width="0.76" height="26.60" fill="#3738e0"/>
<rect x="299.19" y="259.00" width="2.51" height="26.60" fill="#416bfc"/>
<rect x="301.65" y="259.00" width="0.80" height="26.60" fill="#3c50ed"/>
<rect x="302.40" y="259.00" width="2.92" height="26.60" fill="#4270ff"/>
<rect x="305.27" y="259.00" width="0.83" height="26.60" fill="#3636df"/>
<rect x="306.06" y="259.00" width="1.05" height="26.60" fill="#426ffe"/>
<rect x="307.06" y="259.00" width="0.97" height="26.60" fill="#3531dc"/>
<rect x="307.97" y="259.00" width="2.01" height="26.60" fill="#4270ff"/>
<rect x="309.93" y="259.00" width="1.41" height="26.60" fill="#3636df"/>
<rect x="311.28" y="259.00" width="1.32" height="26.60" fill="#4270ff"/>
<rect x="312.56" y="259.00" width="1.21" height="26.60" fill="#3945e7"/>
<rect x="313.71" y="259.00" width="1.17" height="26.60" fill="#4064f8"/>
<rect x="314.84" y="259.00" width="1.30" height="26.60" fill="#373ce2"/>
<rect x="316.09" y="259.00" width="1.13" height="26.60" fill="#4270ff"/>
<rect x="317.17" y="259.00" width="1.26" height="26.60" fill="#3a49e9"/>
<rect x="318.38" y="259.00" width="1.16" height="26.60" fill="#4270ff"/>
<rect x="319.48" y="259.00" width="0.80" height="26.60" fill="#3b4beb"/>
<rect x="320.24" y="259.00" width="2.08" height="26.60" fill="#4168fb"/>
<rect x="322.27" y="259.00" width="1.19" height="26.60" fill="#3b4dec"/>
<rect x="323.42" y="259.00" width="1.62" height="26.60" fill="#4065f9"/>
<rect x="324.98" y="259.00" width="1.17" height="26.60" fill="#3635de"/>
<rect x="326.11" y="259.00" width="1.22" height="26.60" fill="#4066f9"/>
<rect x="327.28" y="259.00" width="0.79" height="26.60" fill="#3634de"/>
<rect x="328.02" y="259.00" width="1.73" height="26.60" fill="#4168fa"/>
<rect x="329.70" y="259.00" width="1.36" height="26.60" fill="#3637df"/>
<rect x="331.01" y="259.00" width="2.20" height="26.60" fill="#4066f9"/>
<rect x="333.16" y="259.00" width="1.03" height="26.60" fill="#342dda"/>
<rect x="334.14" y="259.00" width="1.58" height="26.60" fill="#4064f8"/>
<rect x="335.66" y="259.00" width="1.34" height="26.60" fill="#3840e5"/>
<rect x="336.95" y="259.00" width="1.42" height="26.60" fill="#416afc"/>
<rect x="338.32" y="259.00" width="1.50" height="26.60" fill="#3530dc"/>
<rect x="339.77" y="259.00" width="3.00" height="26.60" fill="#416afb"/>
<rect x="342.72" y="259.00" width="1.15" height="26.60" fill="#3a4aea"/>
<rect x="343.81" y="259.00" width="1.93" height="26.60" fill="#416bfc"/>
<rect x="345.70" y="259.00" width="1.30" height="26.60" fill="#3c4fed"/>
<rect x="346.95" y="259.00" width="1.81" height="26.60" fill="#426fff"/>
<rect x="348.70" y="259.00" width="1.32" height="26.60" fill="#3943e6"/>
<rect x="349.97" y="259.00" width="1.96" height="26.60" fill="#4168fb"/>
<rect x="351.88" y="259.00" width="0.79" height="26.60" fill="#3531dc"/>
<rect x="352.62" y="259.00" width="1.13" height="26.60" fill="#426efe"/>
<rect x="353.70" y="259.00" width="0.95" height="26.60" fill="#3632dd"/>
<rect x="354.60" y="259.00" width="1.16" height="26.60" fill="#4270ff"/>
<rect x="355.72" y="259.00" width="1.45" height="26.60" fill="#3944e7"/>
</g>
<linearGradient id="sg1" x1="0" x2="0" y1="0" y2="1"><stop offset="0" stop-color="#347afd" stop-opacity="0.85"/><stop offset="0.08" stop-color="#3876fe" stop-opacity="0.75"/><stop offset="0.2" stop-color="#3f6eff" stop-opacity="0.5"/><stop offset="0.55" stop-color="#4367fd" stop-opacity="0.15"/><stop offset="1" stop-color="#4743e7" stop-opacity="0.2"/></linearGradient>
<rect x="207.0" y="262.00" width="147.40" height="20.60" fill="url(#sg1)"/>
<g filter="url(#fb2)">
<rect x="394.0" y="181.9" width="155.20" height="100.70" fill="url(#gb2)"/>
<rect x="394.0" y="177.9" width="155.20" height="4.2" fill="#ebebeb"/>
</g>
<filter id="fs2" filterUnits="userSpaceOnUse" x="398.0" y="264.00" width="147.20" height="18.60"><feGaussianBlur stdDeviation="0.25 0"/></filter>
<g filter="url(#fs2)">
<rect x="395.0" y="261.00" width="153.20" height="24.60" fill="#4563fd"/>
<rect x="396.00" y="261.00" width="1.65" height="24.60" fill="#4067fa"/>
<rect x="397.60" y="261.00" width="0.98" height="24.60" fill="#383de3"/>
<rect x="398.54" y="261.00" width="1.34" height="24.60" fill="#416afb"/>
<rect x="399.83" y="261.00" width="0.96" height="24.60" fill="#3b4fed"/>
<rect x="400.74" y="261.00" width="3.38" height="24.60" fill="#416bfc"/>
<rect x="404.08" y="261.00" width="0.95" height="24.60" fill="#3b4fed"/>
<rect x="404.97" y="261.00" width="1.72" height="24.60" fill="#4168fb"/>
<rect x="406.64" y="261.00" width="0.75" height="24.60" fill="#373ae1"/>
<rect x="407.35" y="261.00" width="2.14" height="24.60" fill="#416bfc"/>
<rect x="409.43" y="261.00" width="0.91" height="24.60" fill="#383fe4"/>
<rect x="410.29" y="261.00" width="0.96" height="24.60" fill="#4067fa"/>
<rect x="411.21" y="261.00" width="0.82" height="24.60" fill="#373be2"/>
<rect x="411.98" y="261.00" width="1.05" height="24.60" fill="#4064f8"/>
<rect x="412.98" y="261.00" width="0.99" height="24.60" fill="#3635de"/>
<rect x="413.92" y="261.00" width="2.41" height="24.60" fill="#416bfc"/>
<rect x="416.29" y="261.00" width="1.35" height="24.60" fill="#3944e7"/>
<rect x="417.59" y="261.00" width="2.74" height="24.60" fill="#4270ff"/>
<rect x="420.28" y="261.00" width="1.06" height="24.60" fill="#3738e0"/>
<rect x="421.29" y="261.00" width="3.41" height="24.60" fill="#4066f9"/>
<rect x="424.65" y="261.00" width="1.33" height="24.60" fill="#3943e6"/>
<rect x="425.93" y="261.00" width="1.06" height="24.60" fill="#426fff"/>
<rect x="426.94" y="261.00" width="1.46" height="24.60" fill="#3943e6"/>
<rect x="428.35" y="261.00" width="2.78" height="24.60" fill="#426ffe"/>
<rect x="431.09" y="261.00" width="0.86" height="24.60" fill="#383fe4"/>
<rect x="431.90" y="261.00" width="2.21" height="24.60" fill="#426fff"/>
<rect x="434.06" y="261.00" width="1.39" height="24.60" fill="#3a4aea"/>
<rect x="435.41" y="261.00" width="2.41" height="24.60" fill="#4270ff"/>
<rect x="437.77" y="261.00" width="1.30" height="24.60" fill="#3945e7"/>
<rect x="439.01" y="261.00" width="1.52" height="24.60" fill="#4064f8"/>
<rect x="440.49" y="261.00" width="0.86" height="24.60" fill="#3739e1"/>
<rect x="441.29" y="261.00" width="1.21" height="24.60" fill="#426fff"/>
<rect x="442.46" y="261.00" width="1.20" height="24.60" fill="#3943e6"/>
<rect x="443.60" y="261.00" width="2.52" height="24.60" fill="#426dfd"/>
<rect x="446.07" y="261.00" width="1.14" height="24.60" fill="#342dda"/>
<rect x="447.16" y="261.00" width="2.94" height="24.60" fill="#426efe"/>
<rect x="450.05" y="261.00" width="1.15" height="24.60" fill="#3840e4"/>
<rect x="451.16" y="261.00" width="2.60" height="24.60" fill="#4064f8"/>
<rect x="453.70" y="261.00" width="1.34" height="24.60" fill="#3636df"/>
<rect x="454.99" y="261.00" width="1.14" height="24.60" fill="#4067fa"/>
<rect x="456.08" y="261.00" width="1.33" height="24.60" fill="#3634de"/>
<rect x="457.36" y="261.00" width="2.80" height="24.60" fill="#4270ff"/>
<rect x="460.11" y="261.00" width="1.15" height="24.60" fill="#373ae1"/>
<rect x="461.21" y="261.00" width="2.15" height="24.60" fill="#426dfd"/>
<rect x="463.31" y="261.00" width="1.36" height="24.60" fill="#3943e6"/>
<rect x="464.62" y="261.00" width="2.56" height="24.60" fill="#4064f9"/>
<rect x="467.13" y="261.00" width="0.87" height="24.60" fill="#3636df"/>
<rect x="467.94" y="261.00" width="2.81" height="24.60" fill="#4168fa"/>
<rect x="470.70" y="261.00" width="1.20" height="24.60" fill="#342dda"/>
<rect x="471.86" y="261.00" width="1.10" height="24.60" fill="#4067fa"/>
<rect x="472.91" y="261.00" width="1.29" height="24.60" fill="#3945e7"/>
<rect x="474.15" y="261.00" width="2.64" height="24.60" fill="#4168fa"/>
<rect x="476.73" y="261.00" width="1.16" height="24.60" fill="#383de3"/>
<rect x="477.85" y="261.00" width="2.12" height="24.60" fill="#4065f9"/>
<rect x="479.91" y="261.00" width="1.46" height="24.60" fill="#3634de"/>
<rect x="481.33" y="261.00" width="3.40" height="24.60" fill="#4270ff"/>
<rect x="484.67" y="261.00" width="0.76" height="24.60" fill="#383de3"/>
<rect x="485.39" y="261.00" width="3.00" height="24.60" fill="#4270ff"/>
<rect x="488.34" y="261.00" width="1.11" height="24.60" fill="#3636df"/>
<rect x="489.40" y="261.00" width="1.47" height="24.60" fill="#4270ff"/>
<rect x="490.82" y="261.00" width="0.92" height="24.60" fill="#3941e5"/>
<rect x="491.69" y="261.00" width="1.30" height="24.60" fill="#416bfc"/>
<rect x="492.94" y="261.00" width="1.51" height="24.60" fill="#3531dc"/>
<rect x="494.41" y="261.00" width="3.00" height="24.60" fill="#416bfc"/>
<rect x="497.36" y="261.00" width="1.46" height="24.60" fill="#3946e7"/>
<rect x="498.77" y="261.00" width="1.53" height="24.60" fill="#4270ff"/>
<rect x="500.25" y="261.00" width="1.14" height="24.60" fill="#352eda"/>
<rect x="501.33" y="261.00" width="0.96" height="24.60" fill="#416afc"/>
<rect x="502.24" y="261.00" width="1.11" height="24.60" fill="#3737e0"/>
<rect x="503.30" y="261.00" width="1.30" height="24.60" fill="#4168fb"/>
<rect x="504.56" y="261.00" width="1.00" height="24.60" fill="#3a4aea"/>
<rect x="505.51" y="261.00" width="0.95" height="24.60" fill="#426efe"/>
<rect x="506.41" y="261.00" width="1.42" height="24.60" fill="#3531dc"/>
<rect x="507.78" y="261.00" width="3.27" height="24.60" fill="#426efe"/>
<rect x="511.00" y="261.00" width="1.47" height="24.60" fill="#3637df"/>
<rect x="512.42" y="261.00" width="1.88" height="24.60" fill="#4169fb"/>
<rect x="514.25" y="261.00" width="1.55" height="24.60" fill="#3942e5"/>
<rect x="515.75" y="261.00" width="1.85" height="24.60" fill="#416afb"/>
<rect x="517.55" y="261.00" width="0.97" height="24.60" fill="#352edb"/>
<rect x="518.47" y="261.00" width="1.20" height="24.60" fill="#426fff"/>
<rect x="519.63" y="261.00" width="0.98" height="24.60" fill="#3b4eec"/>
<rect x="520.56" y="261.00" width="1.57" height="24.60" fill="#4067fa"/>
<rect x="522.08" y="261.00" width="1.16" height="24.60" fill="#3633dd"/>
<rect x="523.19" y="261.00" width="1.88" height="24.60" fill="#4270ff"/>
<rect x="525.02" y="261.00" width="1.46" height="24.60" fill="#3a49ea"/>
<rect x="526.43" y="261.00" width="2.53" height="24.60" fill="#4270ff"/>
<rect x="528.91" y="261.00" width="1.50" height="24.60" fill="#3840e4"/>
<rect x="530.36" y="261.00" width="2.75" height="24.60" fill="#4064f8"/>
<rect x="533.06" y="261.00" width="1.34" height="24.60" fill="#383de3"/>
<rect x="534.34" y="261.00" width="2.83" height="24.60" fill="#426dfd"/>
<rect x="537.13" y="261.00" width="0.98" height="24.60" fill="#352edb"/>
<rect x="538.05" y="261.00" width="3.27" height="24.60" fill="#4065f9"/>
<rect x="541.27" y="261.00" width="1.13" height="24.60" fill="#3739e0"/>
<rect x="542.35" y="261.00" width="1.69" height="24.60" fill="#426efe"/>
<rect x="543.99" y="261.00" width="1.53" height="24.60" fill="#3636df"/>
<rect x="545.47" y="261.00" width="2.59" height="24.60" fill="#4168fa"/>
<rect x="548.01" y="261.00" width="1.20" height="24.60" fill="#373be1"/>
</g>
<linearGradient id="sg2" x1="0" x2="0" y1="0" y2="1"><stop offset="0" stop-color="#347afd" stop-opacity="0.85"/><stop offset="0.08" stop-color="#3876fe" stop-opacity="0.75"/><stop offset="0.2" stop-color="#3f6eff" stop-opacity="0.5"/><stop offset="0.55" stop-color="#4367fd" stop-opacity="0.15"/><stop offset="1" stop-color="#4743e7" stop-opacity="0.2"/></linearGradient>
<rect x="398.0" y="264.00" width="147.20" height="18.60" fill="url(#sg2)"/>
<rect x="16.0" y="135.1" width="147.80" height="5.80" fill="url(#pg)"/>
<rect x="16.0" y="306.2" width="147.80" height="5.80" fill="url(#pg)"/>
<rect x="207.0" y="135.1" width="147.40" height="5.80" fill="url(#pg)"/>
<rect x="207.0" y="306.2" width="147.40" height="5.80" fill="url(#pg)"/>
<rect x="398.0" y="135.1" width="147.20" height="5.80" fill="url(#pg)"/>
<rect x="398.0" y="306.2" width="147.20" height="5.80" fill="url(#pg)"/>
<g font-family="'Liberation Sans', Arial, sans-serif" fill="#2a2a2a" stroke="#2a2a2a" stroke-width="0.1" font-size="7" text-anchor="middle">
<text x="89.9" y="7.6" textLength="7.1" lengthAdjust="spacingAndGlyphs" font-weight="bold" fill="#111" stroke="#111" font-size="7">#45</text>
<text x="11.7" y="13.6" textLength="6.3" lengthAdjust="spacingAndGlyphs">500</text>
<text x="11.7" y="33.8" textLength="6.3" lengthAdjust="spacingAndGlyphs">400</text>
<text x="11.7" y="53.9" textLength="6.3" lengthAdjust="spacingAndGlyphs">300</text>
<text x="11.7" y="74.1" textLength="6.3" lengthAdjust="spacingAndGlyphs">200</text>
<text x="11.7" y="94.2" textLength="6.3" lengthAdjust="spacingAndGlyphs">100</text>
<text x="29.0" y="121.1" textLength="2.2" lengthAdjust="spacingAndGlyphs">1</text>
<text x="44.1" y="121.1" textLength="2.2" lengthAdjust="spacingAndGlyphs">2</text>
<text x="59.2" y="121.1" textLength="2.2" lengthAdjust="spacingAndGlyphs">3</text>
<text x="74.3" y="121.1" textLength="2.2" lengthAdjust="spacingAndGlyphs">4</text>
<text x="89.4" y="121.1" textLength="2.2" lengthAdjust="spacingAndGlyphs">5</text>
<text x="104.5" y="121.1" textLength="2.2" lengthAdjust="spacingAndGlyphs">6</text>
<text x="119.7" y="121.1" textLength="2.2" lengthAdjust="spacingAndGlyphs">7</text>
<text x="134.8" y="121.1" textLength="2.2" lengthAdjust="spacingAndGlyphs">8</text>
<text x="149.9" y="121.1" textLength="2.2" lengthAdjust="spacingAndGlyphs">9</text>
<text x="90.2" y="130.5" textLength="19.6" lengthAdjust="spacingAndGlyphs" font-size="7.4">Time (sec)</text>
<text x="0" y="0" transform="translate(7.6 60.6) rotate(-90)" font-size="3.1" textLength="34" lengthAdjust="spacingAndGlyphs" stroke="none" fill="#3a3a3a">Freq. (Hz)</text>
<text x="24.9" y="149.5" textLength="7.2" lengthAdjust="spacingAndGlyphs" font-size="7" fill="#444" stroke="none">-160</text>
<rect x="24.75" y="139.50" width="0.4" height="1.3" fill="#333" stroke="none" opacity="0.55"/>
<text x="40.0" y="149.5" textLength="7.2" lengthAdjust="spacingAndGlyphs" font-size="7" fill="#444" stroke="none">-150</text>
<rect x="39.85" y="139.50" width="0.4" height="1.3" fill="#333" stroke="none" opacity="0.55"/>
<text x="55.1" y="149.5" textLength="7.2" lengthAdjust="spacingAndGlyphs" font-size="7" fill="#444" stroke="none">-140</text>
<rect x="54.95" y="139.50" width="0.4" height="1.3" fill="#333" stroke="none" opacity="0.55"/>
<text x="70.2" y="149.5" textLength="7.2" lengthAdjust="spacingAndGlyphs" font-size="7" fill="#444" stroke="none">-130</text>
<rect x="70.05" y="139.50" width="0.4" height="1.3" fill="#333" stroke="none" opacity="0.55"/>
<text x="85.3" y="149.5" textLength="7.2" lengthAdjust="spacingAndGlyphs" font-size="7" fill="#444" stroke="none">-120</text>
<rect x="85.15" y="139.50" width="0.4" height="1.3" fill="#333" stroke="none" opacity="0.55"/>
<text x="100.5" y="149.5" textLength="7.2" lengthAdjust="spacingAndGlyphs" font-size="7" fill="#444" stroke="none">-110</text>
<rect x="100.25" y="139.50" width="0.4" height="1.3" fill="#333" stroke="none" opacity="0.55"/>
<text x="115.5" y="149.5" textLength="7.2" lengthAdjust="spacingAndGlyphs" font-size="7" fill="#444" stroke="none">-100</text>
<rect x="115.35" y="139.50" width="0.4" height="1.3" fill="#333" stroke="none" opacity="0.55"/>
<text x="130.7" y="149.5" textLength="5.6" lengthAdjust="spacingAndGlyphs" font-size="7" fill="#444" stroke="none">-90</text>
<rect x="130.45" y="139.50" width="0.4" height="1.3" fill="#333" stroke="none" opacity="0.55"/>
<text x="145.8" y="149.5" textLength="5.6" lengthAdjust="spacingAndGlyphs" font-size="7" fill="#444" stroke="none">-80</text>
<rect x="145.55" y="139.50" width="0.4" height="1.3" fill="#333" stroke="none" opacity="0.55"/>
<text x="160.8" y="149.5" textLength="5.6" lengthAdjust="spacingAndGlyphs" font-size="7" fill="#444" stroke="none">-70</text>
<rect x="160.65" y="139.50" width="0.4" height="1.3" fill="#333" stroke="none" opacity="0.55"/>
<text x="280.7" y="7.6" textLength="9.4" lengthAdjust="spacingAndGlyphs" font-weight="bold" fill="#111" stroke="#111" font-size="7">#159</text>
<text x="202.7" y="13.6" textLength="6.3" lengthAdjust="spacingAndGlyphs">500</text>
<text x="202.7" y="33.8" textLength="6.3" lengthAdjust="spacingAndGlyphs">400</text>
<text x="202.7" y="53.9" textLength="6.3" lengthAdjust="spacingAndGlyphs">300</text>
<text x="202.7" y="74.1" textLength="6.3" lengthAdjust="spacingAndGlyphs">200</text>
<text x="202.7" y="94.2" textLength="6.3" lengthAdjust="spacingAndGlyphs">100</text>
<text x="220.0" y="121.1" textLength="2.2" lengthAdjust="spacingAndGlyphs">1</text>
<text x="235.1" y="121.1" textLength="2.2" lengthAdjust="spacingAndGlyphs">2</text>
<text x="250.2" y="121.1" textLength="2.2" lengthAdjust="spacingAndGlyphs">3</text>
<text x="265.3" y="121.1" textLength="2.2" lengthAdjust="spacingAndGlyphs">4</text>
<text x="280.4" y="121.1" textLength="2.2" lengthAdjust="spacingAndGlyphs">5</text>
<text x="295.6" y="121.1" textLength="2.2" lengthAdjust="spacingAndGlyphs">6</text>
<text x="310.7" y="121.1" textLength="2.2" lengthAdjust="spacingAndGlyphs">7</text>
<text x="325.8" y="121.1" textLength="2.2" lengthAdjust="spacingAndGlyphs">8</text>
<text x="340.9" y="121.1" textLength="2.2" lengthAdjust="spacingAndGlyphs">9</text>
<text x="281.0" y="130.5" textLength="19.6" lengthAdjust="spacingAndGlyphs" font-size="7.4">Time (sec)</text>
<text x="0" y="0" transform="translate(198.6 60.6) rotate(-90)" font-size="3.1" textLength="34" lengthAdjust="spacingAndGlyphs" stroke="none" fill="#3a3a3a">Freq. (Hz)</text>
<text x="215.9" y="149.5" textLength="7.2" lengthAdjust="spacingAndGlyphs" font-size="7" fill="#444" stroke="none">-160</text>
<rect x="215.75" y="139.50" width="0.4" height="1.3" fill="#333" stroke="none" opacity="0.55"/>
<text x="231.0" y="149.5" textLength="7.2" lengthAdjust="spacingAndGlyphs" font-size="7" fill="#444" stroke="none">-150</text>
<rect x="230.85" y="139.50" width="0.4" height="1.3" fill="#333" stroke="none" opacity="0.55"/>
<text x="246.1" y="149.5" textLength="7.2" lengthAdjust="spacingAndGlyphs" font-size="7" fill="#444" stroke="none">-140</text>
<rect x="245.95" y="139.50" width="0.4" height="1.3" fill="#333" stroke="none" opacity="0.55"/>
<text x="261.2" y="149.5" textLength="7.2" lengthAdjust="spacingAndGlyphs" font-size="7" fill="#444" stroke="none">-130</text>
<rect x="261.05" y="139.50" width="0.4" height="1.3" fill="#333" stroke="none" opacity="0.55"/>
<text x="276.3" y="149.5" textLength="7.2" lengthAdjust="spacingAndGlyphs" font-size="7" fill="#444" stroke="none">-120</text>
<rect x="276.15" y="139.50" width="0.4" height="1.3" fill="#333" stroke="none" opacity="0.55"/>
<text x="291.4" y="149.5" textLength="7.2" lengthAdjust="spacingAndGlyphs" font-size="7" fill="#444" stroke="none">-110</text>
<rect x="291.25" y="139.50" width="0.4" height="1.3" fill="#333" stroke="none" opacity="0.55"/>
<text x="306.5" y="149.5" textLength="7.2" lengthAdjust="spacingAndGlyphs" font-size="7" fill="#444" stroke="none">-100</text>
<rect x="306.35" y="139.50" width="0.4" height="1.3" fill="#333" stroke="none" opacity="0.55"/>
<text x="321.6" y="149.5" textLength="5.6" lengthAdjust="spacingAndGlyphs" font-size="7" fill="#444" stroke="none">-90</text>
<rect x="321.45" y="139.50" width="0.4" height="1.3" fill="#333" stroke="none" opacity="0.55"/>
<text x="336.8" y="149.5" textLength="5.6" lengthAdjust="spacingAndGlyphs" font-size="7" fill="#444" stroke="none">-80</text>
<rect x="336.55" y="139.50" width="0.4" height="1.3" fill="#333" stroke="none" opacity="0.55"/>
<text x="351.9" y="149.5" textLength="5.6" lengthAdjust="spacingAndGlyphs" font-size="7" fill="#444" stroke="none">-70</text>
<rect x="351.65" y="139.50" width="0.4" height="1.3" fill="#333" stroke="none" opacity="0.55"/>
<text x="471.6" y="7.6" textLength="9.4" lengthAdjust="spacingAndGlyphs" font-weight="bold" fill="#111" stroke="#111" font-size="7">#215</text>
<text x="393.7" y="13.6" textLength="6.3" lengthAdjust="spacingAndGlyphs">500</text>
<text x="393.7" y="33.8" textLength="6.3" lengthAdjust="spacingAndGlyphs">400</text>
<text x="393.7" y="53.9" textLength="6.3" lengthAdjust="spacingAndGlyphs">300</text>
<text x="393.7" y="74.1" textLength="6.3" lengthAdjust="spacingAndGlyphs">200</text>
<text x="393.7" y="94.2" textLength="6.3" lengthAdjust="spacingAndGlyphs">100</text>
<text x="411.0" y="121.1" textLength="2.2" lengthAdjust="spacingAndGlyphs">1</text>
<text x="426.1" y="121.1" textLength="2.2" lengthAdjust="spacingAndGlyphs">2</text>
<text x="441.2" y="121.1" textLength="2.2" lengthAdjust="spacingAndGlyphs">3</text>
<text x="456.3" y="121.1" textLength="2.2" lengthAdjust="spacingAndGlyphs">4</text>
<text x="471.4" y="121.1" textLength="2.2" lengthAdjust="spacingAndGlyphs">5</text>
<text x="486.6" y="121.1" textLength="2.2" lengthAdjust="spacingAndGlyphs">6</text>
<text x="501.7" y="121.1" textLength="2.2" lengthAdjust="spacingAndGlyphs">7</text>
<text x="516.8" y="121.1" textLength="2.2" lengthAdjust="spacingAndGlyphs">8</text>
<text x="531.9" y="121.1" textLength="2.2" lengthAdjust="spacingAndGlyphs">9</text>
<text x="471.9" y="130.5" textLength="19.6" lengthAdjust="spacingAndGlyphs" font-size="7.4">Time (sec)</text>
<text x="0" y="0" transform="translate(389.6 60.6) rotate(-90)" font-size="3.1" textLength="34" lengthAdjust="spacingAndGlyphs" stroke="none" fill="#3a3a3a">Freq. (Hz)</text>
<text x="406.9" y="149.5" textLength="7.2" lengthAdjust="spacingAndGlyphs" font-size="7" fill="#444" stroke="none">-160</text>
<rect x="406.75" y="139.50" width="0.4" height="1.3" fill="#333" stroke="none" opacity="0.55"/>
<text x="422.1" y="149.5" textLength="7.2" lengthAdjust="spacingAndGlyphs" font-size="7" fill="#444" stroke="none">-150</text>
<rect x="421.85" y="139.50" width="0.4" height="1.3" fill="#333" stroke="none" opacity="0.55"/>
<text x="437.1" y="149.5" textLength="7.2" lengthAdjust="spacingAndGlyphs" font-size="7" fill="#444" stroke="none">-140</text>
<rect x="436.95" y="139.50" width="0.4" height="1.3" fill="#333" stroke="none" opacity="0.55"/>
<text x="452.2" y="149.5" textLength="7.2" lengthAdjust="spacingAndGlyphs" font-size="7" fill="#444" stroke="none">-130</text>
<rect x="452.05" y="139.50" width="0.4" height="1.3" fill="#333" stroke="none" opacity="0.55"/>
<text x="467.3" y="149.5" textLength="7.2" lengthAdjust="spacingAndGlyphs" font-size="7" fill="#444" stroke="none">-120</text>
<rect x="467.15" y="139.50" width="0.4" height="1.3" fill="#333" stroke="none" opacity="0.55"/>
<text x="482.4" y="149.5" textLength="7.2" lengthAdjust="spacingAndGlyphs" font-size="7" fill="#444" stroke="none">-110</text>
<rect x="482.25" y="139.50" width="0.4" height="1.3" fill="#333" stroke="none" opacity="0.55"/>
<text x="497.5" y="149.5" textLength="7.2" lengthAdjust="spacingAndGlyphs" font-size="7" fill="#444" stroke="none">-100</text>
<rect x="497.35" y="139.50" width="0.4" height="1.3" fill="#333" stroke="none" opacity="0.55"/>
<text x="512.6" y="149.5" textLength="5.6" lengthAdjust="spacingAndGlyphs" font-size="7" fill="#444" stroke="none">-90</text>
<rect x="512.45" y="139.50" width="0.4" height="1.3" fill="#333" stroke="none" opacity="0.55"/>
<text x="527.8" y="149.5" textLength="5.6" lengthAdjust="spacingAndGlyphs" font-size="7" fill="#444" stroke="none">-80</text>
<rect x="527.55" y="139.50" width="0.4" height="1.3" fill="#333" stroke="none" opacity="0.55"/>
<text x="542.9" y="149.5" textLength="5.6" lengthAdjust="spacingAndGlyphs" font-size="7" fill="#444" stroke="none">-70</text>
<rect x="542.65" y="139.50" width="0.4" height="1.3" fill="#333" stroke="none" opacity="0.55"/>
<text x="89.9" y="178.8" textLength="7.1" lengthAdjust="spacingAndGlyphs" font-weight="bold" fill="#111" stroke="#111" font-size="7">#45</text>
<text x="11.7" y="184.8" textLength="6.3" lengthAdjust="spacingAndGlyphs">500</text>
<text x="11.7" y="204.9" textLength="6.3" lengthAdjust="spacingAndGlyphs">400</text>
<text x="11.7" y="225.1" textLength="6.3" lengthAdjust="spacingAndGlyphs">300</text>
<text x="11.7" y="245.2" textLength="6.3" lengthAdjust="spacingAndGlyphs">200</text>
<text x="11.7" y="265.4" textLength="6.3" lengthAdjust="spacingAndGlyphs">100</text>
<text x="29.0" y="292.2" textLength="2.2" lengthAdjust="spacingAndGlyphs">1</text>
<text x="44.1" y="292.2" textLength="2.2" lengthAdjust="spacingAndGlyphs">2</text>
<text x="59.2" y="292.2" textLength="2.2" lengthAdjust="spacingAndGlyphs">3</text>
<text x="74.3" y="292.2" textLength="2.2" lengthAdjust="spacingAndGlyphs">4</text>
<text x="89.4" y="292.2" textLength="2.2" lengthAdjust="spacingAndGlyphs">5</text>
<text x="104.5" y="292.2" textLength="2.2" lengthAdjust="spacingAndGlyphs">6</text>
<text x="119.7" y="292.2" textLength="2.2" lengthAdjust="spacingAndGlyphs">7</text>
<text x="134.8" y="292.2" textLength="2.2" lengthAdjust="spacingAndGlyphs">8</text>
<text x="149.9" y="292.2" textLength="2.2" lengthAdjust="spacingAndGlyphs">9</text>
<text x="90.2" y="301.6" textLength="19.6" lengthAdjust="spacingAndGlyphs" font-size="7.4">Time (sec)</text>
<text x="0" y="0" transform="translate(7.6 231.8) rotate(-90)" font-size="3.1" textLength="34" lengthAdjust="spacingAndGlyphs" stroke="none" fill="#3a3a3a">Freq. (Hz)</text>
<text x="18.4" y="320.6" textLength="7.2" lengthAdjust="spacingAndGlyphs" font-size="7" fill="#444" stroke="none">-280</text>
<rect x="18.20" y="310.70" width="0.4" height="1.3" fill="#333" stroke="none" opacity="0.55"/>
<text x="35.9" y="320.6" textLength="7.2" lengthAdjust="spacingAndGlyphs" font-size="7" fill="#444" stroke="none">-260</text>
<rect x="35.70" y="310.70" width="0.4" height="1.3" fill="#333" stroke="none" opacity="0.55"/>
<text x="53.4" y="320.6" textLength="7.2" lengthAdjust="spacingAndGlyphs" font-size="7" fill="#444" stroke="none">-240</text>
<rect x="53.20" y="310.70" width="0.4" height="1.3" fill="#333" stroke="none" opacity="0.55"/>
<text x="70.9" y="320.6" textLength="7.2" lengthAdjust="spacingAndGlyphs" font-size="7" fill="#444" stroke="none">-220</text>
<rect x="70.70" y="310.70" width="0.4" height="1.3" fill="#333" stroke="none" opacity="0.55"/>
<text x="88.4" y="320.6" textLength="7.2" lengthAdjust="spacingAndGlyphs" font-size="7" fill="#444" stroke="none">-200</text>
<rect x="88.20" y="310.70" width="0.4" height="1.3" fill="#333" stroke="none" opacity="0.55"/>
<text x="105.9" y="320.6" textLength="7.2" lengthAdjust="spacingAndGlyphs" font-size="7" fill="#444" stroke="none">-180</text>
<rect x="105.70" y="310.70" width="0.4" height="1.3" fill="#333" stroke="none" opacity="0.55"/>
<text x="123.4" y="320.6" textLength="7.2" lengthAdjust="spacingAndGlyphs" font-size="7" fill="#444" stroke="none">-160</text>
<rect x="123.20" y="310.70" width="0.4" height="1.3" fill="#333" stroke="none" opacity="0.55"/>
<text x="140.9" y="320.6" textLength="7.2" lengthAdjust="spacingAndGlyphs" font-size="7" fill="#444" stroke="none">-140</text>
<rect x="140.70" y="310.70" width="0.4" height="1.3" fill="#333" stroke="none" opacity="0.55"/>
<text x="158.4" y="320.6" textLength="7.2" lengthAdjust="spacingAndGlyphs" font-size="7" fill="#444" stroke="none">-120</text>
<rect x="158.20" y="310.70" width="0.4" height="1.3" fill="#333" stroke="none" opacity="0.55"/>
<text x="280.7" y="178.8" textLength="9.4" lengthAdjust="spacingAndGlyphs" font-weight="bold" fill="#111" stroke="#111" font-size="7">#159</text>
<text x="202.7" y="184.8" textLength="6.3" lengthAdjust="spacingAndGlyphs">500</text>
<text x="202.7" y="204.9" textLength="6.3" lengthAdjust="spacingAndGlyphs">400</text>
<text x="202.7" y="225.1" textLength="6.3" lengthAdjust="spacingAndGlyphs">300</text>
<text x="202.7" y="245.2" textLength="6.3" lengthAdjust="spacingAndGlyphs">200</text>
<text x="202.7" y="265.4" textLength="6.3" lengthAdjust="spacingAndGlyphs">100</text>
<text x="220.0" y="292.2" textLength="2.2" lengthAdjust="spacingAndGlyphs">1</text>
<text x="235.1" y="292.2" textLength="2.2" lengthAdjust="spacingAndGlyphs">2</text>
<text x="250.2" y="292.2" textLength="2.2" lengthAdjust="spacingAndGlyphs">3</text>
<text x="265.3" y="292.2" textLength="2.2" lengthAdjust="spacingAndGlyphs">4</text>
<text x="280.4" y="292.2" textLength="2.2" lengthAdjust="spacingAndGlyphs">5</text>
<text x="295.6" y="292.2" textLength="2.2" lengthAdjust="spacingAndGlyphs">6</text>
<text x="310.7" y="292.2" textLength="2.2" lengthAdjust="spacingAndGlyphs">7</text>
<text x="325.8" y="292.2" textLength="2.2" lengthAdjust="spacingAndGlyphs">8</text>
<text x="340.9" y="292.2" textLength="2.2" lengthAdjust="spacingAndGlyphs">9</text>
<text x="281.0" y="301.6" textLength="19.6" lengthAdjust="spacingAndGlyphs" font-size="7.4">Time (sec)</text>
<text x="0" y="0" transform="translate(198.6 231.8) rotate(-90)" font-size="3.1" textLength="34" lengthAdjust="spacingAndGlyphs" stroke="none" fill="#3a3a3a">Freq. (Hz)</text>
<text x="209.4" y="320.6" textLength="7.2" lengthAdjust="spacingAndGlyphs" font-size="7" fill="#444" stroke="none">-280</text>
<rect x="209.20" y="310.70" width="0.4" height="1.3" fill="#333" stroke="none" opacity="0.55"/>
<text x="226.9" y="320.6" textLength="7.2" lengthAdjust="spacingAndGlyphs" font-size="7" fill="#444" stroke="none">-260</text>
<rect x="226.70" y="310.70" width="0.4" height="1.3" fill="#333" stroke="none" opacity="0.55"/>
<text x="244.4" y="320.6" textLength="7.2" lengthAdjust="spacingAndGlyphs" font-size="7" fill="#444" stroke="none">-240</text>
<rect x="244.20" y="310.70" width="0.4" height="1.3" fill="#333" stroke="none" opacity="0.55"/>
<text x="261.9" y="320.6" textLength="7.2" lengthAdjust="spacingAndGlyphs" font-size="7" fill="#444" stroke="none">-220</text>
<rect x="261.70" y="310.70" width="0.4" height="1.3" fill="#333" stroke="none" opacity="0.55"/>
<text x="279.4" y="320.6" textLength="7.2" lengthAdjust="spacingAndGlyphs" font-size="7" fill="#444" stroke="none">-200</text>
<rect x="279.20" y="310.70" width="0.4" height="1.3" fill="#333" stroke="none" opacity="0.55"/>
<text x="296.9" y="320.6" textLength="7.2" lengthAdjust="spacingAndGlyphs" font-size="7" fill="#444" stroke="none">-180</text>
<rect x="296.70" y="310.70" width="0.4" height="1.3" fill="#333" stroke="none" opacity="0.55"/>
<text x="314.4" y="320.6" textLength="7.2" lengthAdjust="spacingAndGlyphs" font-size="7" fill="#444" stroke="none">-160</text>
<rect x="314.20" y="310.70" width="0.4" height="1.3" fill="#333" stroke="none" opacity="0.55"/>
<text x="331.9" y="320.6" textLength="7.2" lengthAdjust="spacingAndGlyphs" font-size="7" fill="#444" stroke="none">-140</text>
<rect x="331.70" y="310.70" width="0.4" height="1.3" fill="#333" stroke="none" opacity="0.55"/>
<text x="349.4" y="320.6" textLength="7.2" lengthAdjust="spacingAndGlyphs" font-size="7" fill="#444" stroke="none">-120</text>
<rect x="349.20" y="310.70" width="0.4" height="1.3" fill="#333" stroke="none" opacity="0.55"/>
<text x="471.6" y="178.8" textLength="9.4" lengthAdjust="spacingAndGlyphs" font-weight="bold" fill="#111" stroke="#111" font-size="7">#215</text>
<text x="393.7" y="184.8" textLength="6.3" lengthAdjust="spacingAndGlyphs">500</text>
<text x="393.7" y="204.9" textLength="6.3" lengthAdjust="spacingAndGlyphs">400</text>
<text x="393.7" y="225.1" textLength="6.3" lengthAdjust="spacingAndGlyphs">300</text>
<text x="393.7" y="245.2" textLength="6.3" lengthAdjust="spacingAndGlyphs">200</text>
<text x="393.7" y="265.4" textLength="6.3" lengthAdjust="spacingAndGlyphs">100</text>
<text x="411.0" y="292.2" textLength="2.2" lengthAdjust="spacingAndGlyphs">1</text>
<text x="426.1" y="292.2" textLength="2.2" lengthAdjust="spacingAndGlyphs">2</text>
<text x="441.2" y="292.2" textLength="2.2" lengthAdjust="spacingAndGlyphs">3</text>
<text x="456.3" y="292.2" textLength="2.2" lengthAdjust="spacingAndGlyphs">4</text>
<text x="471.4" y="292.2" textLength="2.2" lengthAdjust="spacingAndGlyphs">5</text>
<text x="486.6" y="292.2" textLength="2.2" lengthAdjust="spacingAndGlyphs">6</text>
<text x="501.7" y="292.2" textLength="2.2" lengthAdjust="spacingAndGlyphs">7</text>
<text x="516.8" y="292.2" textLength="2.2" lengthAdjust="spacingAndGlyphs">8</text>
<text x="531.9" y="292.2" textLength="2.2" lengthAdjust="spacingAndGlyphs">9</text>
<text x="471.9" y="301.6" textLength="19.6" lengthAdjust="spacingAndGlyphs" font-size="7.4">Time (sec)</text>
<text x="0" y="0" transform="translate(389.6 231.8) rotate(-90)" font-size="3.1" textLength="34" lengthAdjust="spacingAndGlyphs" stroke="none" fill="#3a3a3a">Freq. (Hz)</text>
<text x="400.4" y="320.6" textLength="7.2" lengthAdjust="spacingAndGlyphs" font-size="7" fill="#444" stroke="none">-280</text>
<rect x="400.20" y="310.70" width="0.4" height="1.3" fill="#333" stroke="none" opacity="0.55"/>
<text x="417.9" y="320.6" textLength="7.2" lengthAdjust="spacingAndGlyphs" font-size="7" fill="#444" stroke="none">-260</text>
<rect x="417.70" y="310.70" width="0.4" height="1.3" fill="#333" stroke="none" opacity="0.55"/>
<text x="435.4" y="320.6" textLength="7.2" lengthAdjust="spacingAndGlyphs" font-size="7" fill="#444" stroke="none">-240</text>
<rect x="435.20" y="310.70" width="0.4" height="1.3" fill="#333" stroke="none" opacity="0.55"/>
<text x="452.9" y="320.6" textLength="7.2" lengthAdjust="spacingAndGlyphs" font-size="7" fill="#444" stroke="none">-220</text>
<rect x="452.70" y="310.70" width="0.4" height="1.3" fill="#333" stroke="none" opacity="0.55"/>
<text x="470.4" y="320.6" textLength="7.2" lengthAdjust="spacingAndGlyphs" font-size="7" fill="#444" stroke="none">-200</text>
<rect x="470.20" y="310.70" width="0.4" height="1.3" fill="#333" stroke="none" opacity="0.55"/>
<text x="487.9" y="320.6" textLength="7.2" lengthAdjust="spacingAndGlyphs" font-size="7" fill="#444" stroke="none">-180</text>
<rect x="487.70" y="310.70" width="0.4" height="1.3" fill="#333" stroke="none" opacity="0.55"/>
<text x="505.4" y="320.6" textLength="7.2" lengthAdjust="spacingAndGlyphs" font-size="7" fill="#444" stroke="none">-160</text>
<rect x="505.20" y="310.70" width="0.4" height="1.3" fill="#333" stroke="none" opacity="0.55"/>
<text x="522.9" y="320.6" textLength="7.2" lengthAdjust="spacingAndGlyphs" font-size="7" fill="#444" stroke="none">-140</text>
<rect x="522.70" y="310.70" width="0.4" height="1.3" fill="#333" stroke="none" opacity="0.55"/>
<text x="540.4" y="320.6" textLength="7.2" lengthAdjust="spacingAndGlyphs" font-size="7" fill="#444" stroke="none">-120</text>
<rect x="540.20" y="310.70" width="0.4" height="1.3" fill="#333" stroke="none" opacity="0.55"/>
</g>
<g font-family="'Liberation Serif', 'Times New Roman', serif" fill="#111" stroke="#111" stroke-width="0.12" font-size="15">
<text x="25.0" y="25.3">(a)</text>
<text x="216.0" y="25.3">(b)</text>
<text x="407.0" y="25.3">(c)</text>
<text x="25.0" y="195.4">(d)</text>
<text x="216.0" y="195.4">(e)</text>
<text x="407.0" y="195.4">(f)</text>
</g>
</svg>
</body></html>
